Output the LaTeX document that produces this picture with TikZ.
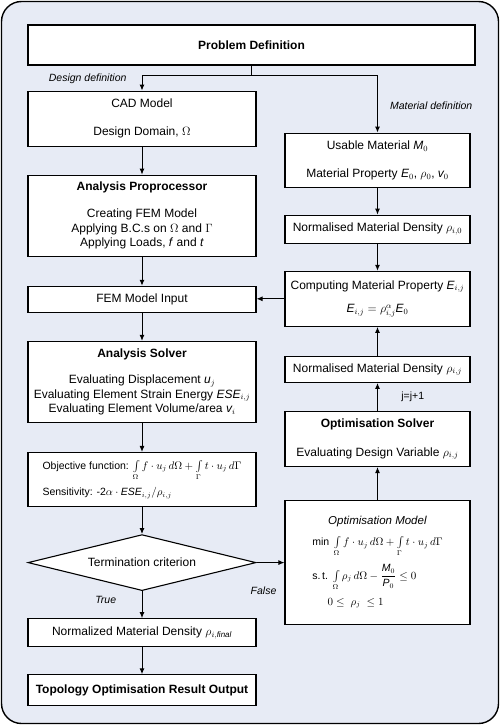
\documentclass[tikz,border=0pt]{standalone}
\usepackage{amsmath}
\usepackage{fontspec}
\setmainfont{Liberation Sans}
\usepackage{xcolor}
\usetikzlibrary{positioning, arrows.meta, shapes.geometric, calc}
\definecolor{panelbg}{RGB}{231,235,245}

\begin{document}
\begin{tikzpicture}[
    x=1pt, y=1pt,
    block/.style={rectangle, draw=black, fill=white, line width=1.1pt, align=center, inner sep=3pt, font=\fontsize{12}{14.5}\selectfont},
    leftblock/.style={block, minimum width=228pt},
    rightblock/.style={block, minimum width=185pt},
    decision/.style={diamond, draw=black, fill=white, line width=1.1pt, aspect=4, inner sep=0pt, minimum width=228pt, minimum height=56pt, font=\fontsize{12}{14}\selectfont},
    flow/.style={-{Latex[length=6pt,width=5pt]}, line width=1pt},
    branch/.style={font=\fontsize{10.5}{12}\selectfont\itshape},
    note/.style={font=\fontsize{10.5}{12}\selectfont}
]
% Background panel
\useasboundingbox (0,0) rectangle (500,-725);
\draw[line width=1.4pt, fill=panelbg, rounded corners=20pt] (1.5,-1.5) rectangle (498.5,-723.5);

% Nodes - left column
\node[block, minimum width=447pt, minimum height=40pt, font=\fontsize{12}{14}\selectfont\bfseries] (problem) at (251.5,-45) {Problem Definition};
\node[leftblock, minimum height=55pt, below=25pt of problem.south west, anchor=north west] (cad) {CAD Model\\[13.5pt] Design Domain, $\Omega$};
\node[leftblock, minimum height=81pt, below=28pt of cad] (preproc) {\textbf{Analysis Proprocessor}\\[12.5pt] Creating FEM Model\\ Applying B.C.s on $\Omega$ and $\Gamma$\\ Applying Loads, \textit{f} and \textit{t}};
\node[leftblock, minimum height=26pt, below=29pt of preproc] (feminput) {FEM Model Input};
\node[leftblock, minimum height=81pt, below=28pt of feminput] (solver) {\textbf{Analysis Solver}\\[11.5pt] Evaluating Displacement $\mathit{u}_j$\\ Evaluating Element Strain Energy $\mathit{ESE}_{i,j}$\\ Evaluating Element Volume/area $\mathit{v}_i$};
\node[leftblock, minimum height=54pt, below=29pt of solver, align=left, font=\fontsize{10.5}{13}\selectfont] (objective) {Objective function: $\int\limits_{\Omega} f\cdot u_j\,d\Omega+\int\limits_{\Gamma} t\cdot u_j\,d\Gamma$\\[6pt] Sensitivity: -2$\alpha\cdot\mathit{ESE}_{i,j}/\rho_{i,j}$};
\node[decision, below=27pt of objective] (termination) {Termination criterion};
\node[leftblock, minimum height=28pt, below=27pt of termination] (finaldensity) {Normalized Material Density $\rho_{i,\mathit{final}}$};
\node[leftblock, minimum height=31pt, below=27pt of finaldensity, font=\fontsize{12}{14}\selectfont\bfseries] (result) {Topology Optimisation Result Output};

% Nodes - right column
\node[rightblock, minimum height=54pt, below=67pt of problem.south east, anchor=north east, xshift=-5pt] (material) {Usable Material $\mathit{M}_0$\\[13.5pt] Material Property $\mathit{E}_0$, $\rho_0$, $\mathit{v}_0$};
\node[rightblock, minimum height=28pt, below=27pt of material] (density0) {Normalised Material Density $\rho_{i,0}$};
\node[rightblock, minimum height=55pt, below=27pt of density0] (property) {Computing Material Property $\mathit{E}_{i,j}$\\[9pt] $\mathit{E}_{i,j}=\rho_{i,j}^{\alpha}\mathit{E}_0$};
\node[rightblock, minimum height=26pt, below=29pt of property] (densityij) {Normalised Material Density $\rho_{i,j}$};
\node[rightblock, minimum height=55pt, below=28pt of densityij] (optsolver) {\textbf{Optimisation Solver}\\[14.5pt] Evaluating Design Variable $\rho_{i,j}$};
\node[rightblock, minimum height=124pt, below=33pt of optsolver, font=\fontsize{10.5}{13}\selectfont] (optmodel) {\fontsize{11.5}{13}\selectfont\textit{Optimisation Model}\\[9pt]
  $\begin{array}{@{}l@{}}
   \text{min}\ \int\limits_{\Omega} f\cdot u_j\,d\Omega+\int\limits_{\Gamma} t\cdot u_j\,d\Gamma\\[15pt]
   \text{s.\,t.}\ \int\limits_{\Omega}\rho_j\,d\Omega-\dfrac{\mathit{M}_0}{\mathit{P}_0}\le 0\\[13pt]
   \quad\;\, 0\le\ \rho_j\ \le 1
  \end{array}$};

% Design / material split
\coordinate (split) at ($(problem.south)+(0,-10)$);
\draw[line width=1pt] (problem.south) -- (split);
\draw[flow] (split) -| (cad.north);
\draw[flow] (split) -| (material.north);
\node[branch, anchor=east] (designlbl) at ($(split -| cad.north)+(-12,-3)$) {Design definition};
\node[branch, anchor=west] (materiallbl) at ($(material.north)+(9,27)$) {Material definition};

% Left column arrows
\draw[flow] (cad.south) -- (preproc.north);
\draw[flow] (preproc.south) -- (feminput.north);
\draw[flow] (feminput.south) -- (solver.north);
\draw[flow] (solver.south) -- (objective.north);
\draw[flow] (objective.south) -- (termination.north);
\draw[flow] (termination.south) -- node[branch, left=22pt, yshift=5pt] (truelbl) {True} (finaldensity.north);
\draw[flow] (finaldensity.south) -- (result.north);

% Right column arrows
\draw[flow] (material.south) -- (density0.north);
\draw[flow] (density0.south) -- (property.north);
\draw[flow] (property.west) -- (property.west -| feminput.east);
\draw[flow] (termination.east) -- node[branch, below=20pt, xshift=-7pt] (falselbl) {False} (termination.east -| optmodel.west);
\draw[flow] (optmodel.north) -- (optsolver.south);
\draw[flow] (optsolver.north) -- node[note, right=20pt] (iterlbl) {j=j+1} (densityij.south);
\draw[flow] (densityij.north) -- (property.south);

\end{tikzpicture}
\end{document}
